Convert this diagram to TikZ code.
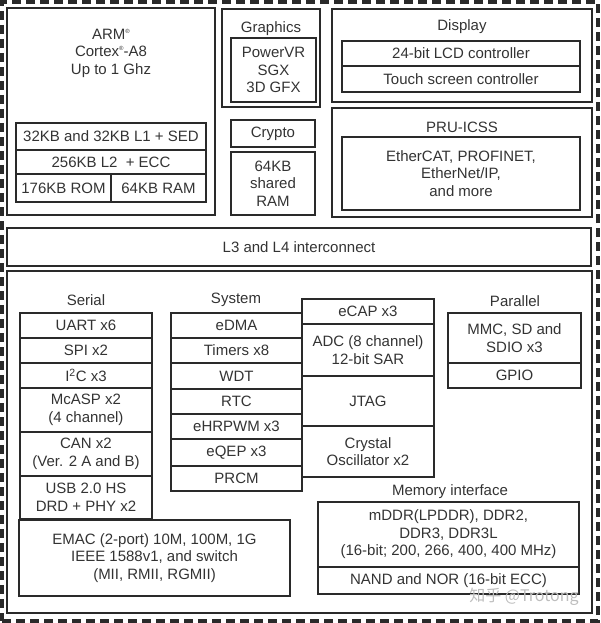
\documentclass[tikz,border=0pt]{standalone}
\usepackage{fontspec}
\setmainfont{Liberation Sans}
\newfontfamily\cjkwm{Noto Sans CJK SC}
\definecolor{ln}{HTML}{2A2A2A}
\definecolor{tx}{HTML}{333333}
\definecolor{wm}{HTML}{BDBDBD}
\newcommand\fs{\fontsize{15}{17.5}\selectfont}
\newcommand\reg{\raisebox{0.75ex}{\fontsize{6}{6}\selectfont\textregistered}}
% \bx{name}{x1}{y1}{x2}{y2}{style}{text}
\newcommand\bx[7]{\node[#6, minimum width={(#4-#2)*1pt}, minimum height={(#5-#3)*1pt}] (#1) at ({(#2+#4)/2},{(#3+#5)/2}) {#7};}
\tikzset{
  base/.style={inner sep=0pt, outer sep=0pt, text=tx, font=\fs, align=center},
  bigbox/.style={base, draw=ln, line width=2.2pt},
  cell/.style={base, draw=ln, line width=1.4pt},
  lbl/.style={base},
  frame/.style={draw=ln, line width=3.5pt, dash pattern=on 9pt off 5pt},
}
\begin{document}
\begin{tikzpicture}[x=1pt,y=-1pt]
\useasboundingbox (0,0) rectangle (600,623);
\bx{outer}{2}{2}{598}{621}{frame}{}
% ARM
\bx{arm}{7}{8}{215}{215}{bigbox}{}
\node[lbl] (armtxt) at (111,53) {ARM\reg\\Cortex\reg-A8\\Up to 1 Ghz};
\bx{l1}{16}{123}{206}{150}{cell}{32KB and 32KB L1 + SED}
\bx{l2}{16}{150}{206}{174}{cell}{256KB L2\ \ + ECC}
\bx{rom}{16}{174}{111}{202}{cell}{176KB ROM}
\bx{ram}{111}{174}{206}{202}{cell}{64KB RAM}
% Graphics
\bx{gfx}{222}{9}{320}{107}{bigbox}{}
\node[lbl] (gfxlbl) at (271,29) {Graphics};
\bx{sgx}{231}{38}{316}{102}{cell}{PowerVR\\SGX\\3D GFX}
\bx{crypto}{231}{120}{315}{147}{cell}{Crypto}
\bx{shram}{231}{152}{315}{215}{cell}{64KB\\shared\\RAM}
% Display
\bx{disp}{332}{9}{592}{102}{bigbox}{}
\node[lbl] (displbl) at (462,27) {Display};
\bx{lcd}{342}{41}{580}{66}{cell}{24-bit LCD controller}
\bx{touch}{342}{66}{580}{92}{cell}{Touch screen controller}
% PRU
\bx{pru}{332}{108}{592}{217}{bigbox}{}
\node[lbl] (prulbl) at (462,127) {PRU-ICSS};
\bx{eth}{342}{137}{580}{210}{cell}{EtherCAT, PROFINET,\\EtherNet/IP,\\and more}
% Interconnect
\bx{l3}{7}{228}{591}{266}{bigbox}{L3 and L4 interconnect}
% Lower block
\bx{low}{7}{271}{592}{613}{bigbox}{}
% Serial
\node[lbl] (serlbl) at (86,300) {Serial};
\bx{uart}{20}{313}{152}{338}{cell}{UART x6}
\bx{spi}{20}{338}{152}{363}{cell}{SPI x2}
\bx{iic}{20}{363}{152}{388}{cell}{I\textsuperscript{2}C x3}
\bx{mcasp}{20}{388}{152}{432}{cell}{McASP x2\\(4 channel)}
\bx{can}{20}{432}{152}{476}{cell}{CAN x2\\(Ver. 2 A and B)}
\bx{usb}{20}{476}{152}{519}{cell}{USB 2.0 HS\\DRD + PHY x2}
\bx{emac}{19}{520}{290}{596}{cell}{EMAC (2-port) 10M, 100M, 1G\\IEEE 1588v1, and switch\\(MII, RMII, RGMII)}
% System
\node[lbl] (syslbl) at (236,300) {System};
\bx{edma}{171}{313}{302}{338}{cell}{eDMA}
\bx{timers}{171}{338}{302}{363}{cell}{Timers x8}
\bx{wdt}{171}{363}{302}{389}{cell}{WDT}
\bx{rtc}{171}{389}{302}{414}{cell}{RTC}
\bx{ehrpwm}{171}{414}{302}{439}{cell}{eHRPWM x3}
\bx{eqep}{171}{439}{302}{466}{cell}{eQEP x3}
\bx{prcm}{171}{466}{302}{491}{cell}{PRCM}
\bx{ecap}{302}{299}{434}{324}{cell}{eCAP x3}
\bx{adc}{302}{324}{434}{376}{cell}{ADC (8 channel)\\12-bit SAR}
\bx{jtag}{302}{376}{434}{426}{cell}{JTAG}
\bx{xtal}{302}{426}{434}{477}{cell}{Crystal\\Oscillator x2}
% Parallel
\node[lbl] (parlbl) at (515,301) {Parallel};
\bx{mmc}{448}{313}{581}{363}{cell}{MMC, SD and\\SDIO x3}
\bx{gpio}{448}{363}{581}{388}{cell}{GPIO}
% Memory
\node[lbl] (memlbl) at (450,492) {Memory interface};
\bx{ddr}{318}{502}{579}{567}{cell}{mDDR(LPDDR), DDR2,\\DDR3, DDR3L\\(16-bit; 200, 266, 400, 400 MHz)}
\bx{nand}{318}{567}{579}{594}{cell}{NAND and NOR (16-bit ECC)}
% watermark
\node[inner sep=0pt, text=wm, font={\cjkwm\fontsize{16}{16}\selectfont}] (wmark) at (524,597) {知乎 @Trotong};
\end{tikzpicture}
\end{document}
